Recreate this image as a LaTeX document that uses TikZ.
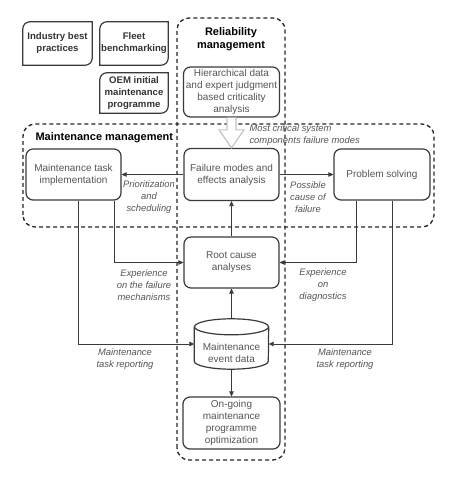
\documentclass[tikz,border=0pt]{standalone}
\usepackage{fontspec}
\setmainfont{Liberation Sans}
\usetikzlibrary{arrows.meta}

\definecolor{linegray}{HTML}{3A3A3A}
\definecolor{textgray}{HTML}{555555}
\definecolor{arrowgray}{HTML}{C4C4C4}

\begin{document}
\begin{tikzpicture}[x=1pt, y=1pt,
			box/.style={draw=linegray, line width=1.2pt, rounded corners=7pt, fill=white, align=center, text=textgray, font=\fontsize{10}{12}\selectfont, inner sep=2pt},
			docbox/.style={align=center, text=black!80, font=\fontsize{9.6}{12}\selectfont\bfseries, inner sep=0pt},
			region/.style={draw=black!85, line width=1.3pt, dash pattern=on 4pt off 3pt, rounded corners=12pt},
			title/.style={font=\fontsize{11}{13.5}\selectfont\bfseries, align=center},
			note/.style={text=textgray, font=\fontsize{9.4}{12}\selectfont\itshape, align=center},
			arrow/.style={draw=linegray, line width=0.8pt, -{Triangle[length=5pt, width=4.5pt]}}
			]
			\useasboundingbox (0,0) rectangle (474,477);
			
			% Regions
			\draw[region] (177,17) rectangle (285,459);
			\draw[region] (23,250) rectangle (434,353);
			\node[title] (reltitle) at (231,438) {Reliability\\management};
			\node[title, anchor=west] (mantitle) at (32,339) {Maintenance management};
			
			% Inputs
			\node[docbox, minimum width=69pt, minimum height=43pt] (industry) at (57.5,433.5) {Industry best\\practices};
			\node[docbox, minimum width=68pt, minimum height=43pt] (fleet) at (134,433.5) {Fleet\\benchmarking};
			\node[docbox, minimum width=68pt, minimum height=40pt] (oem) at (134,384) {OEM initial\\maintenance\\programme};
			\foreach \n in {industry, fleet, oem}
				\draw[draw=linegray, line width=1.2pt] ([yshift=-7pt]\n.north west) arc[start angle=180, end angle=90, radius=7pt] -- (\n.north east) -- ([yshift=7pt]\n.south east) arc[start angle=0, end angle=-90, radius=7pt] -- (\n.south west) -- cycle;
			
			% Reliability management
			\node[box, minimum width=96pt, minimum height=50pt] (hier) at (231.5,385) {Hierarchical data\\and expert judgment\\based criticality\\analysis};
			\node[box, minimum width=95pt, minimum height=52pt] (fmea) at (231.5,302.5) {Failure modes and\\effects analysis};
			\node[box, minimum width=95pt, minimum height=51pt] (rca) at (231.5,214.5) {Root cause\\analyses};
			\node[minimum width=74pt, minimum height=50pt, inner sep=0pt] (med) at (231.5,133) {};
			\node[box, minimum width=97pt, minimum height=52pt] (ongo) at (231.5,54) {On-going\\maintenance\\programme\\optimization};
			
			% Cylinder
			\draw[draw=linegray, line width=1.2pt, fill=white] ([yshift=-8pt]med.north west) -- ([yshift=8pt]med.south west) arc[start angle=180, end angle=360, x radius=37pt, y radius=8pt] -- ([yshift=-8pt]med.north east);
			\draw[draw=linegray, line width=1.2pt, fill=white] ([yshift=-8pt]med.north) ellipse[x radius=37pt, y radius=8pt];
			\node[text=textgray, font=\fontsize{10}{12}\selectfont, align=center] (medtext) at ([yshift=-9pt]med.center) {Maintenance\\event data};
			
			% Maintenance management
			\node[box, minimum width=95pt, minimum height=51pt] (mti) at (73.5,302.5) {Maintenance task\\implementation};
			\node[box, minimum width=96pt, minimum height=51pt] (ps) at (382,302.5) {Problem solving};
			
			% Hollow arrow
			\draw[draw=arrowgray, line width=1.2pt, fill=white] ([xshift=-4.5pt]hier.south) -- ([xshift=-4.5pt, yshift=18pt]fmea.north) -- ([xshift=-12.5pt, yshift=18pt]fmea.north) -- (fmea.north) -- ([xshift=12.5pt, yshift=18pt]fmea.north) -- ([xshift=4.5pt, yshift=18pt]fmea.north) -- ([xshift=4.5pt]hier.south);
			
			% Arrows
			\draw[arrow] (fmea.west) -- (mti.east);
			\draw[arrow] (fmea.east) -- (ps.west);
			\draw[arrow] (rca) -- (fmea);
			\draw[arrow] (med) -- (rca);
			\draw[arrow] (med) -- (ongo);
			\draw[arrow] ([xshift=-7pt]mti.south east) |- (rca.west);
			\draw[arrow] ([xshift=4.5pt]mti.south) |- (med.west);
			\draw[arrow] ([xshift=-26pt]ps.south) |- (rca.east);
			\draw[arrow] ([xshift=10pt]ps.south) |- (med.east);
			
			% Labels
			\node[note, anchor=west, align=left] (critnote) at (246,342) {Most critical system\\components failure modes};
			\node[note] (prionote) at (149,280) {Prioritization\\and\\scheduling};
			\node[note] (causenote) at (308,280) {Possible\\cause of\\failure};
			\node[note] (failnote) at (144,192) {Experience\\on the failure\\mechanisms};
			\node[note] (diagnote) at (323,192) {Experience\\on\\diagnostics};
			\node[note] (repleft) at (125,118) {Maintenance\\task reporting};
			\node[note] (repright) at (345,118) {Maintenance\\task reporting};
		\end{tikzpicture}
\end{document}
